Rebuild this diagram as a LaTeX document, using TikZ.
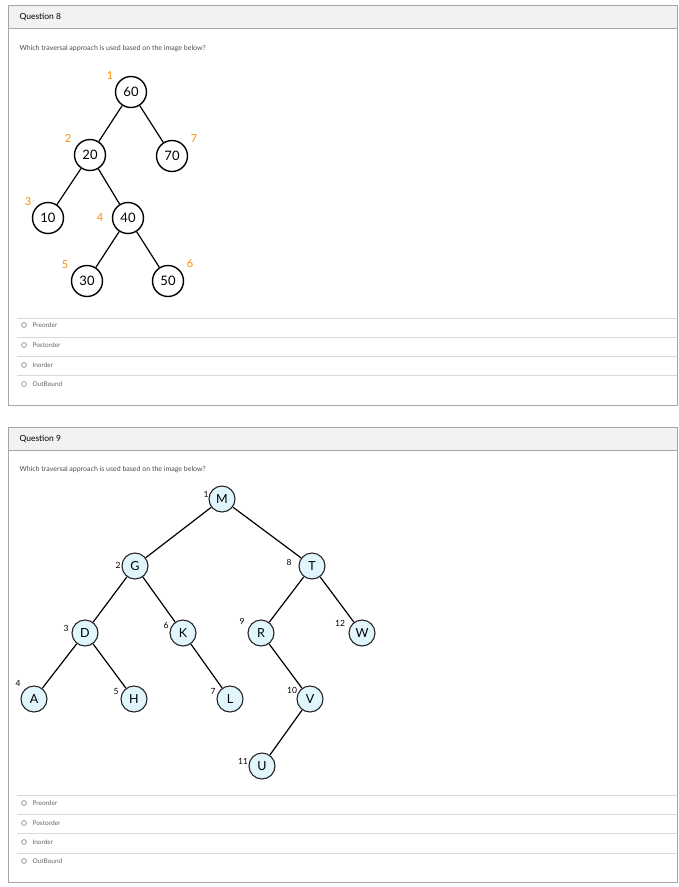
\documentclass[tikz,border=0pt]{standalone}
\usepackage{fontspec}
\setmainfont{Lato}
\begin{document}
\begin{tikzpicture}[x=1pt,y=-1pt,
 panel/.style={draw=black!35,line width=0.8pt},
 hdr/.style={fill=black!5,draw=black!35,line width=0.8pt},
 sep/.style={draw=black!15,line width=0.6pt},
 opt/.style={anchor=west,font=\fontsize{6.5}{7}\selectfont,text=black!60},
 qt/.style={anchor=west,font=\fontsize{7}{8}\selectfont,text=black!70},
 numnode/.style={circle,draw,line width=1.4pt,minimum size=31pt,inner sep=0pt,font=\fontsize{13}{14}\selectfont,fill=white},
 letnode/.style={circle,draw=black!85,line width=1.1pt,minimum size=26pt,inner sep=0pt,font=\fontsize{12.5}{14}\selectfont,fill=cyan!12},
 olab/.style={text=orange!90!yellow,font=\fontsize{11}{12}\selectfont},
 hlab/.style={font=\fontsize{8.5}{9}\selectfont},
 edge/.style={line width=1.2pt}]
\useasboundingbox (0,0) rectangle (678,887);
% Question 8 panel
\draw[panel] (8,5) rectangle (677,405);
\draw[hdr] (8,5) rectangle (677,28);
\node[anchor=west,font=\fontsize{8.5}{10}\selectfont] (q8) at (16,17) {Question 8};
\node[qt] (t8) at (16,49) {Which traversal approach is used based on the image below?};
\foreach \y in {318,337,356,375} \draw[sep] (17,\y) -- (677,\y);
\foreach \y/\t [count=\i] in {325/Preorder,345/Postorder,365/Inorder,384/OutBound}{
 \draw[black!60,line width=0.5pt] (24,\y) circle (2.4);
 \node[opt] (a\i) at (29,\y) {\t};}
% tree 8
\node[numnode] (n60) at (131,92) {60};
\node[numnode] (n20) at (90,155) {20};
\node[numnode] (n70) at (172,156) {70};
\node[numnode] (n10) at (48,218) {10};
\node[numnode] (n40) at (128,218) {40};
\node[numnode] (n30) at (87,281) {30};
\node[numnode] (n50) at (168,281) {50};
\draw[edge] (n60)--(n20) (n60)--(n70) (n20)--(n10) (n20)--(n40) (n40)--(n30) (n40)--(n50);
\node[olab] (o1) at (110,76) {1};
\node[olab] (o2) at (68,139) {2};
\node[olab] (o7) at (194,139) {7};
\node[olab] (o3) at (28,202) {3};
\node[olab] (o4) at (100,218) {4};
\node[olab] (o5) at (65,265) {5};
\node[olab] (o6) at (190,264) {6};
% Question 9 panel
\draw[panel] (8,427) rectangle (677,882);
\draw[hdr] (8,427) rectangle (677,450);
\node[anchor=west,font=\fontsize{8.5}{10}\selectfont] (q9) at (16,439) {Question 9};
\node[qt] (t9) at (16,470) {Which traversal approach is used based on the image below?};
\foreach \y in {795,814,833,853} \draw[sep] (17,\y) -- (677,\y);
\foreach \y/\t [count=\i] in {803/Preorder,823/Postorder,842/Inorder,861/OutBound}{
 \draw[black!60,line width=0.5pt] (24,\y) circle (2.4);
 \node[opt] (b\i) at (29,\y) {\t};}
% tree 9
\node[letnode] (M) at (222,499) {M};
\node[letnode] (G) at (135,566) {G};
\node[letnode] (T) at (312,566) {T};
\node[letnode] (D) at (85,633) {D};
\node[letnode] (K) at (183,633) {K};
\node[letnode] (R) at (261,633) {R};
\node[letnode] (W) at (362,633) {W};
\node[letnode] (A) at (34,699) {A};
\node[letnode] (H) at (134,699) {H};
\node[letnode] (L) at (230,699) {L};
\node[letnode] (V) at (310,699) {V};
\node[letnode] (U) at (262,766) {U};
\draw[edge] (M)--(G) (M)--(T) (G)--(D) (G)--(K) (D)--(A) (D)--(H) (K)--(L) (T)--(R) (T)--(W) (R)--(V) (V)--(U);
\node[hlab] (h1) at (206,494) {1};
\node[hlab] (h2) at (118,565) {2};
\node[hlab] (h8) at (289,562) {8};
\node[hlab] (h3) at (66,628) {3};
\node[hlab] (h6) at (166,625) {6};
\node[hlab] (h9) at (242,621) {9};
\node[hlab] (h12) at (340,623) {12};
\node[hlab] (h4) at (18,683) {4};
\node[hlab] (h5) at (116,691) {5};
\node[hlab] (h7) at (213,691) {7};
\node[hlab] (h10) at (292,690) {10};
\node[hlab] (h11) at (243,761) {11};
\end{tikzpicture}
\end{document}
